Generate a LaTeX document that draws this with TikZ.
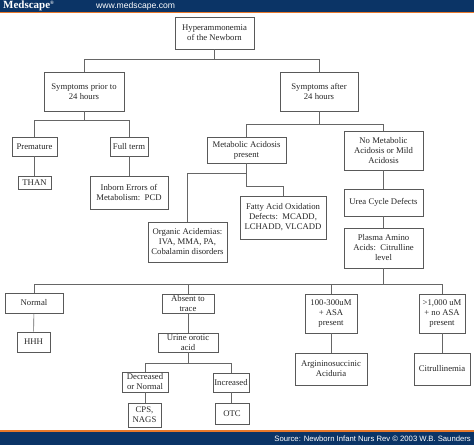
\documentclass[tikz,border=0pt]{standalone}
\usepackage{fontspec}
\setmainfont{Liberation Serif}
\newfontfamily\hdrfont{Liberation Sans}
\definecolor{navy}{HTML}{0B3466}
\definecolor{orangeline}{HTML}{E8782A}
\newcommand\mybox[6]{\node[box, minimum width=#4pt, minimum height=#5pt] (#1) at (#2,#3) {#6};}
\begin{document}
\begin{tikzpicture}[x=1pt,y=-1pt,
  box/.style={draw=black!65, line width=0.6pt, inner sep=0pt, align=center,
    font=\fontsize{8.7}{10}\selectfont, text=black!85},
  link/.style={draw=black!60, line width=0.6pt}]
\useasboundingbox (0,0) rectangle (474,445);
% header and footer
\fill[navy] (0,0) rectangle (474,11.5);
\fill[orangeline] (0,11.5) rectangle (474,13);
\node[anchor=west, text=white, inner sep=0pt, font=\fontsize{11}{11}\selectfont\bfseries] (logo) at (3,5.5) {Medscape\textsuperscript{\tiny\textregistered}};
\node[anchor=west, text=white, inner sep=0pt, font=\hdrfont\fontsize{8.6}{9}\selectfont] (url) at (96,5.8) {www.medscape.com};
\fill[orangeline] (0,430) rectangle (474,432);
\fill[navy] (0,432) rectangle (474,445);
\node[anchor=east, text=white, inner sep=0pt, font=\hdrfont\fontsize{7.7}{8}\selectfont] (src) at (471,438.5) {Source: Newborn Infant Nurs Rev \textcopyright\ 2003 W.B. Saunders};
% boxes
\mybox{hyp}{214.5}{33}{79}{32}{Hyperammonemia\\of the Newborn}
\mybox{prior}{84}{91.5}{80}{39}{Symptoms prior to\\24 hours}
\mybox{after}{319}{91.5}{78}{39}{Symptoms after\\24 hours}
\mybox{prem}{34.5}{146.5}{45}{19}{Premature}
\mybox{full}{129}{146.5}{38}{19}{Full term}
\mybox{than}{34.5}{182.5}{33}{13}{THAN}
\mybox{inborn}{129}{192.5}{78}{33}{Inborn Errors of\\Metabolism:\ \ PCD}
\mybox{metab}{246.5}{150}{79}{26}{Metabolic Acidosis\\present}
\mybox{nometab}{383.5}{150.5}{79}{39}{No Metabolic\\Acidosis or Mild\\Acidosis}
\mybox{organic}{187.5}{242}{79}{40}{Organic Acidemias:\\IVA, MMA, PA,\\Cobalamin disorders}
\mybox{fatty}{283}{217.5}{86}{43}{Fatty Acid Oxidation\\Defects:\ \ MCADD,\\LCHADD, VLCADD}
\mybox{urea}{383.5}{202.5}{79}{27}{Urea Cycle Defects}
\mybox{plasma}{383.5}{248}{79}{40}{Plasma Amino\\Acids:\ \ Citrulline\\level}
\mybox{normal}{34}{303}{58}{20}{Normal}
\mybox{hhh}{33.5}{342}{33}{20}{HHH}
\mybox{absent}{188}{303.5}{52}{19}{Absent to\\trace}
\mybox{urine}{188}{342.5}{60}{19}{Urine orotic\\acid}
\mybox{decr}{145}{382}{46}{20}{Decreased\\or Normal}
\mybox{incr}{231}{382.5}{36}{19}{Increased}
\mybox{cps}{144.5}{415}{33}{24}{CPS,\\NAGS}
\mybox{otc}{232}{413.5}{34}{21}{OTC}
\mybox{asa}{331}{313.5}{52}{39}{100-300uM\\+ ASA\\present}
\mybox{noasa}{442}{313.5}{46}{39}{>1,000 uM\\+ no ASA\\present}
\mybox{argi}{331}{369}{72}{32}{Argininosuccinic\\Aciduria}
\mybox{citr}{442}{369}{56}{32}{Citrullinemia}
% connectors
\coordinate (j1) at (0,59);
\draw[link] (hyp.south) -- (hyp.south |- j1) -| (prior.north);
\draw[link] (hyp.south |- j1) -| (after.north);
\coordinate (j2) at (0,120);
\draw[link] (prior.south) -- (prior.south |- j2) -| (prem.north);
\draw[link] (prior.south |- j2) -| (full.north);
\draw[link] (prem) -- (than);
\draw[link] (full) -- (inborn);
\coordinate (j3) at (0,124);
\draw[link] (after.south) -- (after.south |- j3) -| (metab.north);
\draw[link] (after.south |- j3) -| (nometab.north);
\coordinate (j4) at (0,173);
\coordinate (j5) at (0,186);
\draw[link] (metab.south) -- (metab.south |- j5) -| (fatty.north);
\draw[link] (metab.south |- j4) -| (organic.north);
\draw[link] (nometab) -- (urea);
\draw[link] (urea) -- (plasma);
\coordinate (j6) at (0,284);
\draw[link] (plasma.south) -- (plasma.south |- j6) -| (normal.north);
\draw[link] (plasma.south |- j6) -| (absent.north);
\draw[link] (plasma.south |- j6) -| (asa.north);
\draw[link] (plasma.south |- j6) -| (noasa.north);
\draw[link] (normal) -- (hhh);
\draw[link] (absent) -- (urine);
\draw[link] (asa) -- (argi);
\draw[link] (noasa.south) -- (noasa.south |- citr.north);
\coordinate (j7) at (0,363);
\draw[link] (urine.south) -- (urine.south |- j7) -| (decr.north);
\draw[link] (urine.south |- j7) -| (incr.north);
\draw[link] (decr.south) -- (decr.south |- cps.north);
\draw[link] (incr.south) -- (incr.south |- otc.north);
\end{tikzpicture}
\end{document}
